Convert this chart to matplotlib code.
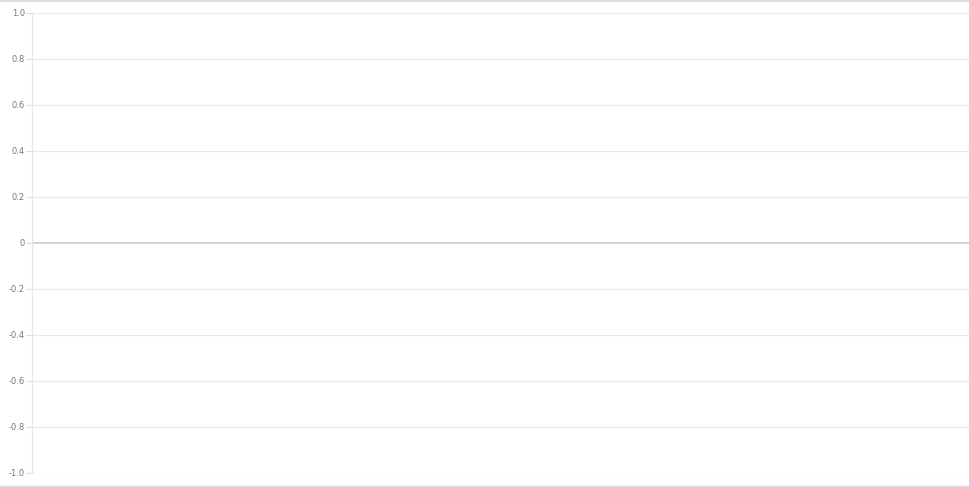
import matplotlib
matplotlib.use("Agg")
import matplotlib.pyplot as plt
from matplotlib.lines import Line2D

# Data (the chart has no series; only the value axis is shown)
categories = []
values = []
y_ticks = [-1.0, -0.8, -0.6, -0.4, -0.2, 0.0, 0.2, 0.4, 0.6, 0.8, 1.0]
y_tick_labels = ["-1.0", "-0.8", "-0.6", "-0.4", "-0.2", "0", "0.2", "0.4", "0.6", "0.8", "1.0"]

W, H = 970, 487
fig = plt.figure(figsize=(W / 100, H / 100), dpi=100)
fig.patch.set_facecolor("white")

left = 32 / W
bottom = (H - 473) / H
top = (H - 13) / H
ax = fig.add_axes([left, bottom, 1.01 - left, top - bottom])

if categories:
    ax.bar(categories, values)

ax.set_ylim(-1.0, 1.0)
ax.set_xlim(0, 1)
ax.set_yticks(y_ticks)
ax.set_yticklabels(y_tick_labels)
ax.set_xticks([])

for y in y_ticks:
    if y == 0:
        ax.axhline(y, color="#cccccc", lw=1.2, zorder=1)
    else:
        ax.axhline(y, color="#e8e8e8", lw=0.8, zorder=0)

for s in ["top", "right", "bottom"]:
    ax.spines[s].set_visible(False)
ax.spines["left"].set_color("#e6e6e6")
ax.spines["left"].set_linewidth(0.8)

ax.tick_params(axis="y", length=4, width=0.8, color="#dddddd",
               labelsize=6, labelcolor="#777777", pad=1.2)

# figure border lines top and bottom
fig.add_artist(Line2D([0, 1], [1 - 1 / H, 1 - 1 / H], transform=fig.transFigure,
                      color="#dddddd", lw=1.5))
fig.add_artist(Line2D([0, 1], [1.5 / H, 1.5 / H], transform=fig.transFigure,
                      color="#dddddd", lw=1.0))

fig.savefig("out.png", dpi=100, facecolor="white")
